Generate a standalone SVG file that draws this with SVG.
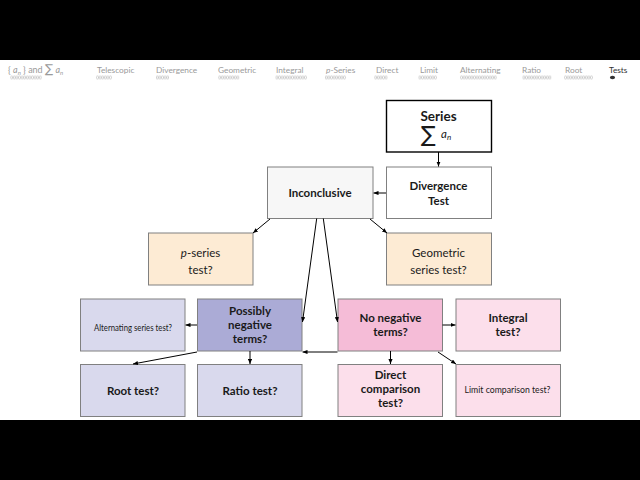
<svg xmlns="http://www.w3.org/2000/svg" width="640" height="480" viewBox="0 0 640 480">
<defs>
<style>
.bx{stroke:#808080;stroke-width:1}
.t{font-family:Lato,"Open Sans","DejaVu Sans",sans-serif;font-size:11.5px;font-weight:bold;fill:#1a1a1a;text-anchor:middle}
.r{font-weight:normal}
.s{font-family:Lato,"Open Sans","DejaVu Sans",sans-serif;font-size:9.5px;fill:#1a1a1a;text-anchor:middle}
.nav{font-family:Lato,"Open Sans","DejaVu Sans",sans-serif;font-size:8.3px;fill:#9a9a9a}
.c{stroke:#000;stroke-width:1;fill:none;marker-end:url(#ah)}
</style>
<marker id="ah" viewBox="0 0 6 5" refX="6" refY="2.5" markerWidth="5" markerHeight="4.2" markerUnits="userSpaceOnUse" orient="auto">
<path d="M0,0 L6,2.5 L0,5 z" fill="#000"/>
</marker>
<pattern id="dots" x="0" y="75.5" width="2.6" height="4" patternUnits="userSpaceOnUse">
<ellipse cx="1.3" cy="2" rx="1.05" ry="1.5" fill="none" stroke="#a0a0a0" stroke-width="0.5"/>
</pattern>
</defs>
<rect x="0" y="0" width="640" height="480" fill="#fff"/>
<rect x="0" y="0" width="640" height="60" fill="#000"/>
<rect x="0" y="420" width="640" height="60" fill="#000"/>

<g id="nav">
<text class="nav" x="8" y="73" style="font-size:9px">{ <tspan font-style="italic">a</tspan><tspan font-style="italic" font-size="6" dy="1.5">n</tspan><tspan dy="-1.5"> } and </tspan><tspan font-family="DejaVu Sans" font-size="12">∑</tspan><tspan> </tspan><tspan font-style="italic">a</tspan><tspan font-style="italic" font-size="6" dy="1.5">n</tspan></text>
<text class="nav" x="97" y="73">Telescopic</text>
<text class="nav" x="156" y="73">Divergence</text>
<text class="nav" x="218" y="73">Geometric</text>
<text class="nav" x="276" y="73">Integral</text>
<text class="nav" x="326" y="73"><tspan font-style="italic">p</tspan>-Series</text>
<text class="nav" x="376" y="73">Direct</text>
<text class="nav" x="420" y="73">Limit</text>
<text class="nav" x="460" y="73">Alternating</text>
<text class="nav" x="522" y="73">Ratio</text>
<text class="nav" x="565" y="73">Root</text>
<text class="nav" x="609" y="73" style="fill:#333">Tests</text>
<rect x="10.4" y="75.5" width="31.2" height="4" fill="url(#dots)"/>
<rect x="96.2" y="75.5" width="15.6" height="4" fill="url(#dots)"/>
<rect x="156" y="75.5" width="13" height="4" fill="url(#dots)"/>
<rect x="218.4" y="75.5" width="20.8" height="4" fill="url(#dots)"/>
<rect x="275.6" y="75.5" width="31.2" height="4" fill="url(#dots)"/>
<rect x="325" y="75.5" width="20.8" height="4" fill="url(#dots)"/>
<rect x="374.4" y="75.5" width="13" height="4" fill="url(#dots)"/>
<rect x="418.6" y="75.5" width="18.2" height="4" fill="url(#dots)"/>
<rect x="460.2" y="75.5" width="36.4" height="4" fill="url(#dots)"/>
<rect x="522.6" y="75.5" width="28.6" height="4" fill="url(#dots)"/>
<rect x="564.2" y="75.5" width="28.6" height="4" fill="url(#dots)"/>
<ellipse cx="612.5" cy="77.5" rx="2.6" ry="1.8" fill="#333"/>
</g>

<g id="series">
<rect x="386.5" y="100.5" width="105" height="51.5" fill="#fff" stroke="#000" stroke-width="1.4"/>
<text class="t" x="438.5" y="121" style="font-size:13.5px">Series</text>
<text x="428.5" y="142" font-family="'DejaVu Sans', sans-serif" font-size="22" text-anchor="middle" fill="#1a1a1a" font-weight="normal">∑</text>
<text x="441" y="137.5" font-family="Lato, sans-serif" font-style="italic" font-size="11.5" fill="#1a1a1a">a<tspan font-size="8" dy="2">n</tspan></text>
</g>

<g id="divergence">
<rect class="bx" x="386.5" y="167" width="105" height="51.5" fill="#fff"/>
<text class="t" x="438.5" y="190">Divergence</text>
<text class="t" x="438.5" y="205">Test</text>
</g>

<g id="inconclusive">
<rect class="bx" x="267.5" y="167" width="105.5" height="51.5" fill="#f7f7f7"/>
<text class="t" x="320" y="197">Inconclusive</text>
</g>

<g id="pseries">
<rect class="bx" x="148.5" y="233" width="104.5" height="52" fill="#fdebd4"/>
<text class="t r" x="200.5" y="257"><tspan font-style="italic">p</tspan>-series</text>
<text class="t r" x="200.5" y="274">test?</text>
</g>

<g id="geometric">
<rect class="bx" x="386.5" y="233" width="105" height="52" fill="#fdebd4"/>
<text class="t r" x="438.5" y="257">Geometric</text>
<text class="t r" x="438.5" y="274">series test?</text>
</g>

<g id="alternating">
<rect class="bx" x="80.5" y="299" width="104.5" height="52" fill="#d9d9ed"/>
<text class="s" x="133" y="330.5" textLength="78" lengthAdjust="spacingAndGlyphs">Alternating series test?</text>
</g>

<g id="possibly">
<rect class="bx" x="197.5" y="299" width="104.5" height="52" fill="#ababd6"/>
<text class="t" x="250" y="315">Possibly</text>
<text class="t" x="250" y="329">negative</text>
<text class="t" x="250" y="343">terms?</text>
</g>

<g id="nonegative">
<rect class="bx" x="338" y="299" width="104.5" height="52" fill="#f5bcd7"/>
<text class="t" x="390.5" y="322">No negative</text>
<text class="t" x="390.5" y="336">terms?</text>
</g>

<g id="integral">
<rect class="bx" x="456" y="299" width="104.5" height="52" fill="#fcdfeb"/>
<text class="t" x="508" y="322">Integral</text>
<text class="t" x="508" y="336">test?</text>
</g>

<g id="root">
<rect class="bx" x="80.5" y="364.5" width="104.5" height="52" fill="#d9d9ed"/>
<text class="t" x="133" y="394.5">Root test?</text>
</g>

<g id="ratio">
<rect class="bx" x="197.5" y="364.5" width="104.5" height="52" fill="#d9d9ed"/>
<text class="t" x="250" y="394.5">Ratio test?</text>
</g>

<g id="direct">
<rect class="bx" x="338" y="364.5" width="104.5" height="52" fill="#fcdfeb"/>
<text class="t" x="390.5" y="379">Direct</text>
<text class="t" x="390.5" y="393">comparison</text>
<text class="t" x="390.5" y="407">test?</text>
</g>

<g id="limit">
<rect class="bx" x="456" y="364.5" width="104.5" height="52" fill="#fcdfeb"/>
<text class="s" x="507.5" y="393" textLength="86" lengthAdjust="spacingAndGlyphs">Limit comparison test?</text>
</g>

<g id="connectors">
<line class="c" x1="438.5" y1="152" x2="438.5" y2="166.5"/>
<line class="c" x1="386" y1="193" x2="373.5" y2="193"/>
<line class="c" x1="270" y1="219" x2="253" y2="233"/>
<line class="c" x1="370" y1="219" x2="387" y2="233"/>
<line class="c" x1="316.7" y1="218.5" x2="302.5" y2="322"/>
<line class="c" x1="323.3" y1="218.5" x2="337.5" y2="322"/>
<line class="c" x1="197" y1="325" x2="185.5" y2="325"/>
<line class="c" x1="197" y1="352" x2="133" y2="364"/>
<line class="c" x1="250" y1="351" x2="250" y2="364"/>
<line class="c" x1="337.5" y1="352" x2="302.5" y2="352"/>
<line class="c" x1="442.5" y1="325" x2="455.5" y2="325"/>
<line class="c" x1="390.5" y1="351" x2="390.5" y2="364"/>
<line class="c" x1="438" y1="352" x2="456" y2="364"/>
</g>
</svg>
